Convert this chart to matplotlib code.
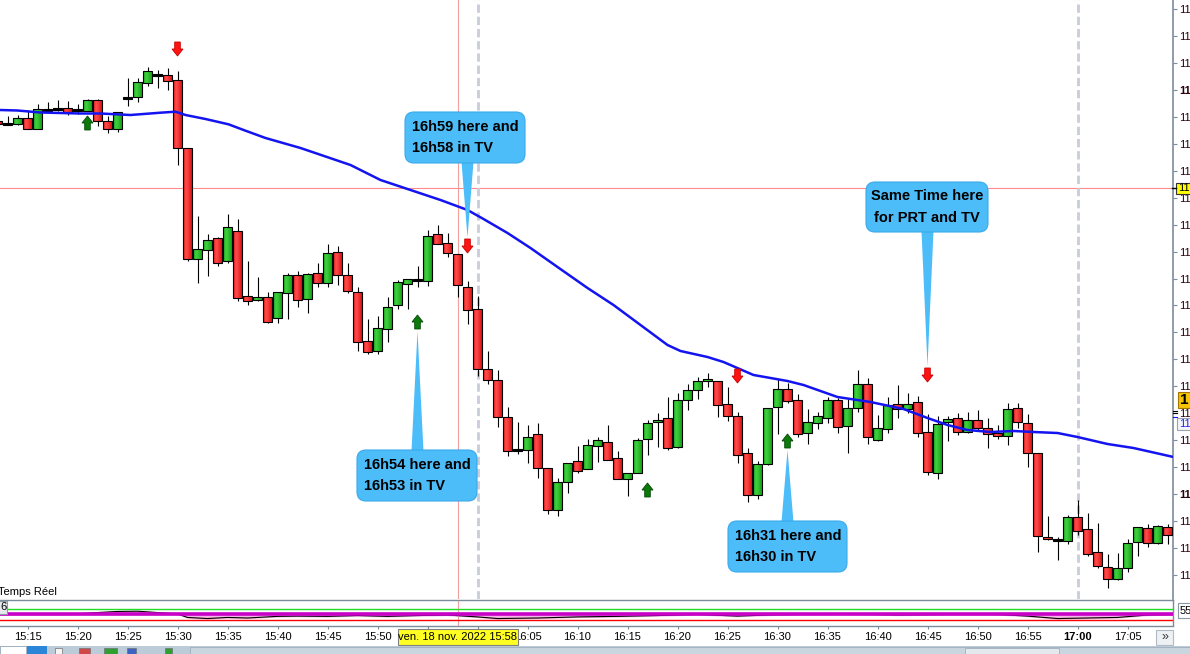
import matplotlib
matplotlib.use("Agg")
import numpy as np
import matplotlib.pyplot as plt
from matplotlib.patches import Rectangle, FancyBboxPatch, Polygon
from matplotlib.colors import to_rgb

# ---------------------------------------------------------------- data
# 1-minute candles of 18 Nov 2022; index 0 is 15:12 (minute -3 relative to 15:15)
first_minute = -3
opens = [11679, 11676, 11676, 11682, 11671, 11690, 11691, 11692, 11690, 11689,
         11700, 11679, 11671, 11702, 11703, 11717, 11725, 11725, 11720, 11652,
         11541, 11550, 11562, 11539, 11569, 11504, 11500, 11503, 11482, 11507,
         11525, 11501, 11527, 11517, 11548, 11525, 11508, 11459, 11449, 11471,
         11495, 11516, 11520, 11519, 11566, 11557, 11546, 11513, 11491, 11431,
         11420, 11383, 11350, 11350, 11366, 11332, 11290, 11318, 11339, 11331,
         11354, 11358, 11342, 11321, 11327, 11361, 11378, 11382, 11353, 11400,
         11410, 11419, 11419, 11396, 11384, 11347, 11305, 11336, 11393, 11411,
         11400, 11367, 11377, 11382, 11400, 11374, 11392, 11416, 11360, 11371,
         11396, 11391, 11398, 11368, 11327, 11378, 11382, 11368, 11380, 11372,
         11367, 11364, 11392, 11377, 11347, 11263, 11260, 11259, 11283, 11271,
         11248, 11233, 11221, 11232, 11258, 11272, 11257, 11273]
highs = [11680, 11684, 11685, 11690, 11696, 11698, 11700, 11699, 11696, 11701,
         11701, 11684, 11688, 11722, 11722, 11733, 11730, 11732, 11729, 11652,
         11584, 11566, 11563, 11586, 11581, 11539, 11523, 11508, 11508, 11527,
         11529, 11527, 11537, 11556, 11554, 11537, 11513, 11481, 11484, 11503,
         11520, 11521, 11534, 11570, 11575, 11567, 11546, 11519, 11504, 11449,
         11430, 11393, 11378, 11375, 11377, 11332, 11322, 11337, 11354, 11361,
         11363, 11375, 11349, 11327, 11362, 11380, 11387, 11403, 11407, 11416,
         11423, 11427, 11419, 11413, 11388, 11352, 11339, 11392, 11421, 11417,
         11406, 11391, 11388, 11403, 11402, 11401, 11430, 11422, 11385, 11403,
         11415, 11407, 11404, 11386, 11384, 11384, 11387, 11388, 11390, 11382,
         11375, 11397, 11397, 11386, 11347, 11284, 11263, 11285, 11300, 11287,
         11277, 11246, 11247, 11261, 11273, 11276, 11275, 11276]
lows = [11675, 11675, 11675, 11671, 11671, 11688, 11689, 11685, 11686, 11689,
        11674, 11667, 11668, 11694, 11698, 11714, 11712, 11710, 11635, 11539,
        11517, 11524, 11534, 11537, 11499, 11495, 11499, 11477, 11477, 11481,
        11493, 11487, 11513, 11513, 11515, 11507, 11449, 11446, 11446, 11458,
        11491, 11491, 11513, 11514, 11556, 11543, 11503, 11476, 11424, 11416,
        11373, 11344, 11346, 11337, 11322, 11286, 11284, 11307, 11327, 11331,
        11338, 11340, 11321, 11304, 11327, 11345, 11353, 11350, 11352, 11390,
        11401, 11413, 11383, 11379, 11337, 11298, 11301, 11335, 11366, 11397,
        11363, 11356, 11371, 11377, 11367, 11347, 11388, 11356, 11359, 11367,
        11382, 11387, 11363, 11325, 11321, 11359, 11365, 11367, 11369, 11352,
        11361, 11355, 11372, 11333, 11248, 11260, 11240, 11256, 11265, 11244,
        11232, 11212, 11220, 11228, 11244, 11253, 11256, 11256]
closes = [11676, 11676, 11682, 11671, 11691, 11690, 11691, 11688, 11690, 11700,
          11679, 11671, 11688, 11702, 11718, 11729, 11725, 11719, 11652, 11541,
          11551, 11560, 11537, 11573, 11502, 11499, 11503, 11478, 11508, 11525,
          11500, 11526, 11517, 11547, 11525, 11509, 11458, 11448, 11472, 11493,
          11518, 11521, 11520, 11564, 11556, 11547, 11515, 11490, 11431, 11420,
          11383, 11349, 11350, 11363, 11332, 11290, 11318, 11337, 11329, 11355,
          11360, 11340, 11321, 11327, 11360, 11377, 11380, 11352, 11400, 11410,
          11419, 11421, 11395, 11384, 11345, 11305, 11336, 11392, 11411, 11399,
          11366, 11378, 11384, 11400, 11373, 11392, 11416, 11363, 11372, 11395,
          11391, 11396, 11367, 11328, 11376, 11381, 11368, 11380, 11372, 11366,
          11364, 11391, 11378, 11347, 11264, 11261, 11260, 11283, 11269, 11246,
          11234, 11221, 11232, 11257, 11273, 11257, 11274, 11265]

# moving average (blue line), minutes relative to 15:15
ma_minutes = [-2.75, -1, 1.3, 5.3, 7.3, 10.3, 13.3, 14.8, 15.8, 17.8, 20.1, 21.8,
              23.8, 27.3, 32.3, 35.3, 38.3, 41.3, 44, 45.6, 48, 50.3, 53, 56,
              58.6, 61.3, 64, 65.3, 68, 69.6, 72.6, 76, 77.6, 81, 84.3, 87.6,
              90, 92, 94, 96.3, 98.6, 100.6, 103, 105, 108, 110.6, 114.6]
ma_values = [11690, 11689.5, 11687.5, 11686.5, 11686.5, 11685, 11687.3, 11688.3,
             11685, 11681, 11675.7, 11669.3, 11662, 11652, 11635, 11620, 11610,
             11600, 11590, 11581, 11567, 11552, 11533, 11512, 11495, 11475, 11455,
             11449, 11443, 11438, 11425, 11419, 11415, 11403, 11398, 11391, 11382,
             11375, 11370, 11368, 11369, 11368, 11367, 11363, 11356, 11352, 11343]

# oscillator in the lower panel
osc_minutes = [-3, 3, 5, 7, 9, 11, 13, 15, 16, 18, 20, 22, 25, 27, 30, 33, 36, 39,
               42, 45, 47, 51, 55, 59, 63, 67, 71, 74, 77, 82, 87, 92, 97, 100,
               103, 106, 109, 112, 115]
osc_values = [49, 49, 51, 56, 60, 61, 56, 51, 38, 34, 38, 36, 42, 43, 42, 45, 42,
              45, 47, 40, 34, 36, 40, 42, 45, 49, 43, 47, 49, 51, 47, 49, 49, 43,
              34, 36, 38, 47, 49]
osc_upper, osc_mid, osc_lower = 68, 50, 28

# signal arrows (minute, price of the arrow tip)
sell_minutes = [15, 44, 71, 90]
sell_tips = [11744, 11547, 11417, 11418]
buy_minutes = [6, 39, 62, 76]
buy_tips = [11684, 11485, 11317, 11366]

price_ticks = [11791, 11764, 11737, 11710, 11683, 11656, 11629, 11602, 11575,
               11548, 11521, 11495, 11468, 11441, 11414, 11387, 11360, 11333,
               11306, 11279, 11252, 11225]
bold_price_ticks = [11710, 11306]
time_tick_minutes = [0, 5, 10, 15, 20, 25, 30, 35, 40, 45, 50, 55, 60, 65, 70,
                     75, 80, 85, 90, 95, 100, 105, 110]
# 15:55 and 16:00 are hidden under the cursor date label
time_tick_labels = ["15:15", "15:20", "15:25", "15:30", "15:35", "15:40", "15:45",
                    "15:50", "", "", "16:05", "16:10", "16:15", "16:20",
                    "16:25", "16:30", "16:35", "16:40", "16:45", "16:50", "16:55",
                    "17:00", "17:05"]
bold_time_label = "17:00"
session_minutes = [45, 105]
cursor_minute = 43
cursor_price = 11612
cursor_label = "ven. 18 nov. 2022 15:58"

callout_texts = [["16h59 here and", "16h58 in TV"],
                 ["Same Time here", "for PRT and TV"],
                 ["16h54 here and", "16h53 in TV"],
                 ["16h31 here and", "16h30 in TV"]]

# ---------------------------------------------------------------- layout
W, H = 1190, 654
AX_R = 1173          # pixel x of the price axis
X0_PX = 27.5         # pixel x of minute 0 (15:15)
PX_MIN = 10.0        # pixels per minute

plt.rcParams['font.family'] = ['Liberation Sans', 'DejaVu Sans']
RED_EDGE, RED_MID = '#d81414', '#ff4a4a'
GRN_EDGE, GRN_MID = '#17a017', '#3fd03f'
AXC = '#7d8c9a'

fig = plt.figure(figsize=(W / 100, H / 100), dpi=100)
fig.patch.set_facecolor('white')


def rect(x0, y0, x1, y1):
    return [x0 / W, 1 - y1 / H, (x1 - x0) / W, (y1 - y0) / H]


def gradient(c_edge, c_mid):
    e, m = np.array(to_rgb(c_edge)), np.array(to_rgb(c_mid))
    t = np.array([0.2, 0.7, 1.0, 0.85, 0.6, 0.35, 0.1])
    return (e[None, :] * (1 - t[:, None]) + m[None, :] * t[:, None])[None, :, :]


RED_GRAD = gradient(RED_EDGE, RED_MID)
GRN_GRAD = gradient(GRN_EDGE, GRN_MID)

ax = fig.add_axes(rect(0, 0, AX_R, 599))
ax_ind = fig.add_axes(rect(0, 600, AX_R, 625.5))
xlim = (-X0_PX / PX_MIN, (AX_R - X0_PX) / PX_MIN)
ylim = (11201, 11800)
for a in (ax, ax_ind):
    a.set_facecolor('white')

# reference lines
ax.axhline(cursor_price, color='#ff8c8c', lw=0.8, zorder=1)
for a in (ax, ax_ind):
    a.axvline(cursor_minute, color='#f2a0a0', lw=0.8, zorder=1)
for sm in session_minutes:
    ax.axvline(sm, color='#c9ccd9', lw=2.0, ls=(0, (3, 1.4)), zorder=1)

# candles
BW = 0.84
for i, (o, h, l, c) in enumerate(zip(opens, highs, lows, closes)):
    m = first_minute + i
    ax.vlines(m, l, h, colors='black', lw=0.8, zorder=2)
    bottom, height = min(o, c), abs(c - o)
    if height < 1:
        ax.add_patch(Rectangle((m - BW / 2, (o + c) / 2 - 1), BW, 2,
                               facecolor='black', edgecolor='black', lw=0.8, zorder=3))
        continue
    grad = GRN_GRAD if c > o else RED_GRAD
    ax.imshow(grad, extent=[m - BW / 2, m + BW / 2, bottom, bottom + height],
              aspect='auto', interpolation='bilinear', zorder=3)
    ax.add_patch(Rectangle((m - BW / 2, bottom), BW, height, facecolor='none',
                           edgecolor='black', lw=0.8, zorder=3.5))

ax.set_xlim(*xlim)
ax.set_ylim(*ylim)
ax_ind.set_xlim(*xlim)

# moving average
ax.plot(ma_minutes, ma_values, color='#1414f0', lw=1.8, zorder=4,
        solid_capstyle='round')

# arrows
ARW, SHW, HEADH, ARH = 0.55, 0.28, 7, 14
for m, tip in zip(sell_minutes, sell_tips):
    pts = [(m, tip), (m - ARW, tip + HEADH), (m - SHW, tip + HEADH),
           (m - SHW, tip + ARH), (m + SHW, tip + ARH), (m + SHW, tip + HEADH),
           (m + ARW, tip + HEADH)]
    ax.add_patch(Polygon(pts, closed=True, facecolor='#ff1414',
                         edgecolor='#c80000', lw=0.6, zorder=5))
for m, tip in zip(buy_minutes, buy_tips):
    pts = [(m, tip), (m - ARW, tip - HEADH), (m - SHW, tip - HEADH),
           (m - SHW, tip - ARH), (m + SHW, tip - ARH), (m + SHW, tip - HEADH),
           (m + ARW, tip - HEADH)]
    ax.add_patch(Polygon(pts, closed=True, facecolor='#0b7a0b',
                         edgecolor='#064806', lw=0.6, zorder=5))

# price axis
for s in ('top', 'left', 'bottom'):
    ax.spines[s].set_visible(False)
ax.spines['right'].set_color(AXC)
ax.spines['right'].set_linewidth(1.2)
ax.set_xticks([])
ax.yaxis.tick_right()
ax.set_yticks(price_ticks)
ax.set_yticklabels([str(v) for v in price_ticks])
ax.tick_params(axis='y', length=3, width=0.8, color=AXC, pad=1.5,
               labelsize=8, labelcolor='#2a0008')
for t, v in zip(ax.get_yticklabels(), price_ticks):
    if v in bold_price_ticks:
        t.set_fontweight('bold')

# indicator panel
ax_ind.set_ylim(8.5, 102)
ax_ind.fill_between(osc_minutes, osc_values, osc_mid, color='#f7b6e6', zorder=1)
ax_ind.plot(osc_minutes, osc_values, color='black', lw=0.8, zorder=2)
ax_ind.axhline(osc_upper, color='#22dd22', lw=1.0, zorder=3)
ax_ind.axhline(osc_mid, color='#c800c8', lw=2.6, zorder=3)
ax_ind.axhline(osc_lower, color='#ff0000', lw=1.0, zorder=3)
ax_ind.spines['left'].set_visible(False)
for s in ('top', 'bottom', 'right'):
    ax_ind.spines[s].set_color(AXC)
    ax_ind.spines[s].set_linewidth(1.0)
ax_ind.set_yticks([])
ax_ind.set_xticks(time_tick_minutes)
ax_ind.set_xticklabels(time_tick_labels)
ax_ind.tick_params(axis='x', length=2.5, width=0.8, color=AXC, pad=2.5,
                   labelsize=8, labelcolor='black')
for t in ax_ind.get_xticklabels():
    if t.get_text() == bold_time_label:
        t.set_fontweight('bold')

# ---------------------------------------------------------------- overlay (pixel coords)
ov = fig.add_axes([0, 0, 1, 1], zorder=10)
ov.set_xlim(0, W)
ov.set_ylim(H, 0)
ov.axis('off')
ov.patch.set_alpha(0)


def to_px(a, x, y):
    dx, dy = a.transData.transform((x, y))
    return dx, H - dy


ov.text(-2.5, 592, "Temps Réel", fontsize=8, va='center', ha='left', color='black')

# indicator value boxes
ov.add_patch(Rectangle((-10, 601), 17, 13, facecolor='#e6eaee', edgecolor='#8a98a6', lw=0.8))
ov.text(0.5, 607.5, "6", fontsize=8, va='center', ha='left')
ov.add_patch(Rectangle((1178, 603), 20, 15, facecolor='white', edgecolor='#8a98a6', lw=0.8))
ov.text(1180, 610.5, "55", fontsize=8, va='center', ha='left')

# price boxes on the right axis
_, ypx = to_px(ax, 0, cursor_price)
ov.plot([1172, 1176], [ypx, ypx], color='black', lw=1.0)
ov.add_patch(Rectangle((1175.5, ypx - 5.5), 20, 11.5, facecolor='#ffff00',
                       edgecolor='#333333', lw=0.8))
ov.text(1178, ypx, "11", fontsize=8, va='center', ha='left')
ov.add_patch(Rectangle((1177.5, 391.5), 20, 16.5, facecolor='#f6c400',
                       edgecolor='#a07800', lw=0.8))
ov.text(1180, 400, "1", fontsize=11, fontweight='bold', va='center', ha='left')
ov.plot([1173, 1177], [410.5, 410.5], color='black', lw=0.8)
ov.plot([1173, 1177], [412.7, 412.7], color='black', lw=0.8)
ov.plot([1173, 1177], [416.5, 416.5], color='#1414f0', lw=0.8)
ov.add_patch(Rectangle((1176.5, 417.5), 20, 12.5, facecolor='#f4f5f8',
                       edgecolor='#9aa4ae', lw=0.8))
ov.text(1179, 424, "11", fontsize=8, color='#2222ff', va='center', ha='left')

# cursor date label
cx, _ = to_px(ax, cursor_minute, cursor_price)
ov.add_patch(Rectangle((cx - 60, 629), 120, 16, facecolor='#ffff22',
                       edgecolor='#808080', lw=0.8))
ov.text(cx, 637.5, cursor_label, fontsize=8, va='center', ha='center')

# scroll button
ov.add_patch(Rectangle((1156, 630), 17, 15, facecolor='#eef1f4', edgecolor='#b0bac4', lw=0.8))
ov.text(1164.5, 637, "»", fontsize=9, va='center', ha='center', color='#333333')

# bottom toolbar
ov.add_patch(Rectangle((0, 645.5), W, 9, facecolor='#bccbd8', edgecolor='none'))
ov.add_patch(Rectangle((0, 645.5), 26, 9, facecolor='white', edgecolor='#9aaaba', lw=0.6))
ov.add_patch(Rectangle((27, 645.5), 20, 9, facecolor='#2b86d9', edgecolor='none'))
for x0, w, c in [(55, 7, '#f4f4f4'), (79, 11, '#d04848'), (104, 13, '#2fa02f'),
                 (127, 9, '#3a64c4'), (165, 7, '#2fa02f')]:
    ov.add_patch(Rectangle((x0, 648), w, 6, facecolor=c, edgecolor='#707070', lw=0.5))
ov.add_patch(Rectangle((190, 646.5), 1000, 8, facecolor='#c9d5df', edgecolor='#98a8b8', lw=0.5))
ov.add_patch(Rectangle((965, 647.5), 94, 7, facecolor='#e4e9ee', edgecolor='#98a8b8', lw=0.5))

# callouts
BOX_FC = '#4dbdf9'
BOX_EC = '#3aa9ea'
callout_boxes = [(405, 112, 525, 163), (866, 182, 988, 232),
                 (357, 450, 477, 501), (728, 521, 847, 572)]
callout_align = ['left', 'center', 'left', 'left']
callout_targets = [('sell', 1), ('sell', 3), ('buy', 1), ('buy', 3)]
for (x0, y0, x1, y1), lines, align, (kind, k) in zip(
        callout_boxes, callout_texts, callout_align, callout_targets):
    if kind == 'sell':
        tx, ty = to_px(ax, sell_minutes[k], sell_tips[k] + ARH)
        ty -= 1.5
        base_y = y1 - 1
    else:
        tx, ty = to_px(ax, buy_minutes[k], buy_tips[k] - ARH)
        ty += 2
        base_y = y0 + 1
    ov.add_patch(Polygon([(tx - 6, base_y), (tx + 6, base_y), (tx, ty)],
                         closed=True, facecolor=BOX_FC, edgecolor='none', zorder=2))
    ov.add_patch(FancyBboxPatch((x0, y0), x1 - x0, y1 - y0,
                                boxstyle='round,pad=0,rounding_size=9',
                                facecolor=BOX_FC, edgecolor=BOX_EC, lw=0.8, zorder=3))
    cy = (y0 + y1) / 2
    for j, line in enumerate(lines):
        yy = cy - 10.5 + 21 * j
        if align == 'left':
            ov.text(x0 + 7, yy, line, fontsize=10.5, fontweight='bold',
                    va='center', ha='left', zorder=4)
        else:
            ov.text((x0 + x1) / 2, yy, line, fontsize=10.5, fontweight='bold',
                    va='center', ha='center', zorder=4)

fig.savefig('out.png', dpi=100)
